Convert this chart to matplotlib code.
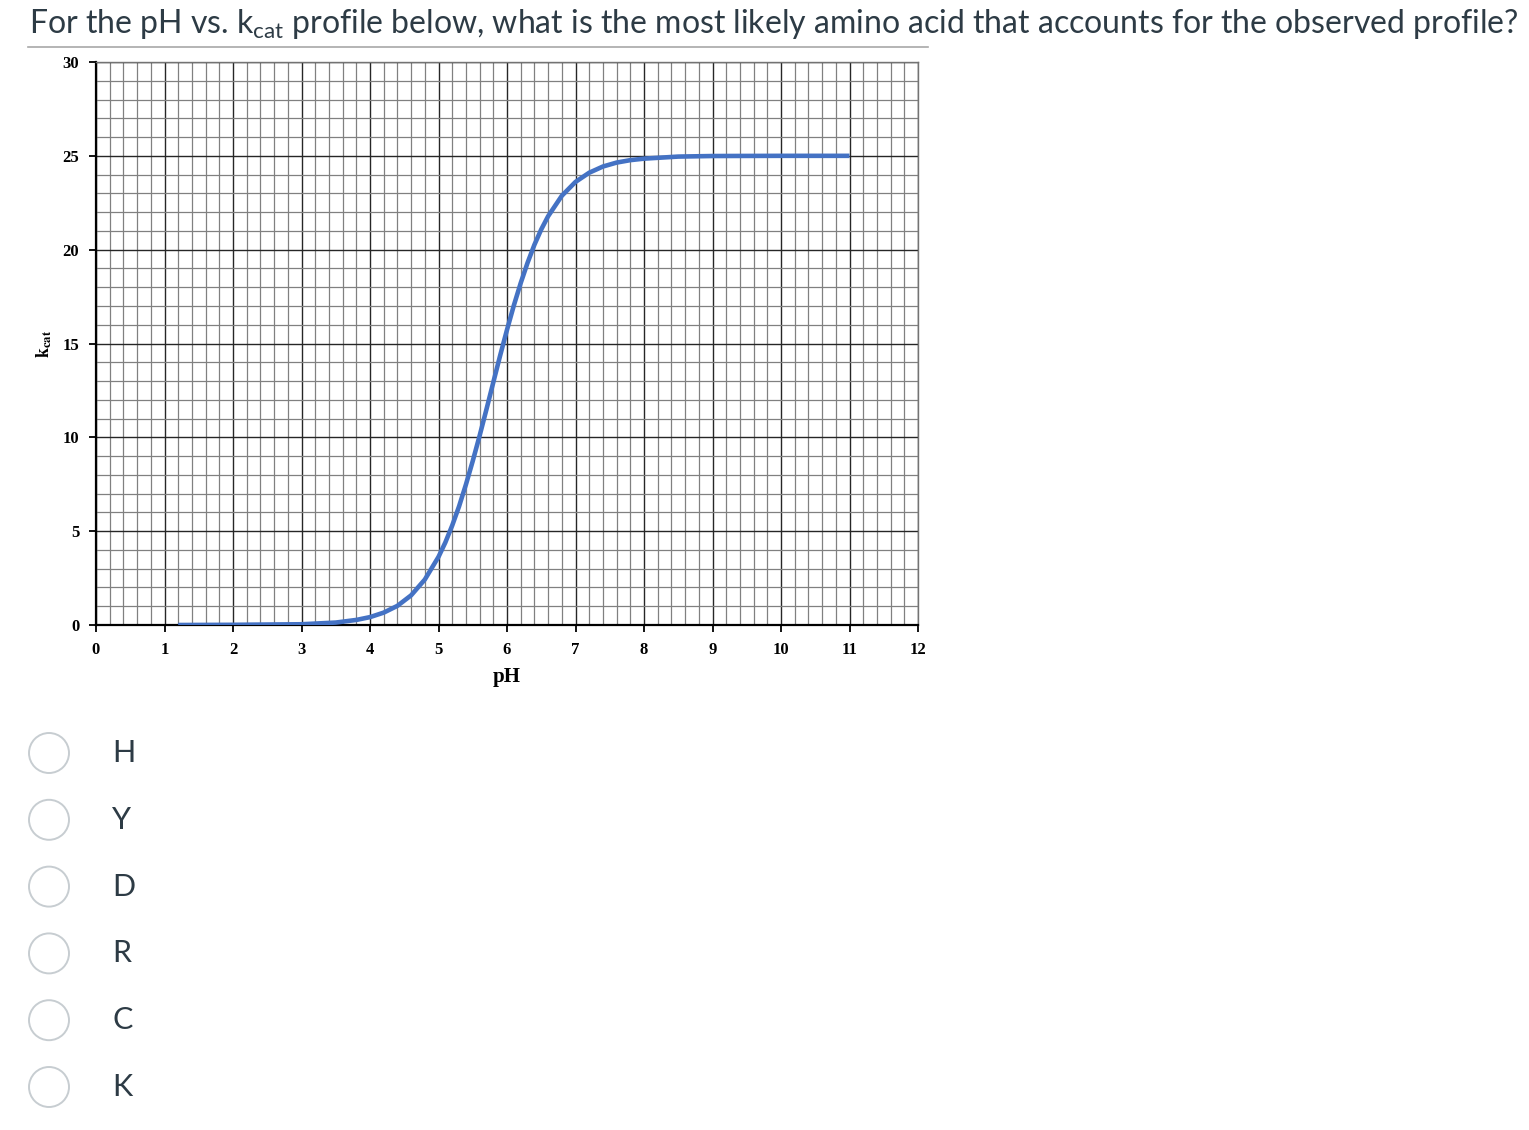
import numpy as np
import matplotlib.pyplot as plt
from matplotlib.patches import Circle
from matplotlib.lines import Line2D

# data
ph = [1.2, 2.0, 3.0, 3.5, 3.8, 4.0, 4.2, 4.4, 4.6, 4.8, 5.0, 5.1, 5.2, 5.3, 5.4, 5.5, 5.6, 5.7, 5.8,
      5.9, 6.0, 6.1, 6.2, 6.3, 6.4, 6.5, 6.6, 6.8, 7.0, 7.2, 7.4, 7.6, 7.8, 8.0, 8.5, 9.0, 10.0, 11.0]
kcat = [0.0, 0.01, 0.04, 0.13, 0.27, 0.42, 0.66, 1.02, 1.58, 2.42, 3.63, 4.40, 5.30, 6.32, 7.48, 8.74, 10.08, 11.49, 12.93,
        14.36, 15.73, 17.03, 18.22, 19.30, 20.26, 21.08, 21.78, 22.87, 23.61, 24.10, 24.43, 24.64, 24.77, 24.85, 24.96, 24.99, 25.0, 25.0]
x_ticks = list(range(0, 13))
y_ticks = [0, 5, 10, 15, 20, 25, 30]
options = ['H', 'Y', 'D', 'R', 'C', 'K']
question = r'For the pH vs. k$_{\mathrm{cat}}$ profile below, what is the most likely amino acid that accounts for the observed profile?'

plt.rcParams['mathtext.fontset'] = 'custom'
plt.rcParams['mathtext.rm'] = 'Lato'
plt.rcParams['mathtext.it'] = 'Lato:italic'
plt.rcParams['mathtext.bf'] = 'Lato:bold'

W, H = 1529, 1130
fig = plt.figure(figsize=(W / 100, H / 100), dpi=100)
text_col = '#2d3b45'

# question text + rule under it
fig.text(29 / W, 1 - 33 / H, question, fontsize=23, family='Lato', color=text_col,
         va='baseline', ha='left')
fig.add_artist(Line2D([28 / W, 928 / W], [1 - 47 / H, 1 - 47 / H], color='#a8a8a8', lw=1.2,
                      transform=fig.transFigure))

# chart
ax = fig.add_axes([96 / W, 1 - 625 / H, (918 - 96) / W, (625 - 62) / H])
ax.set_xlim(0, 12)
ax.set_ylim(0, 30)
ax.set_xticks(np.arange(0, 12.01, 0.2), minor=True)
ax.set_yticks(np.arange(0, 30.01, 1), minor=True)
ax.grid(which='major', color='0.15', lw=1.0)
ax.grid(which='minor', color='0.5', lw=0.9)
ax.set_axisbelow(True)
ax.tick_params(which='minor', length=0)
ax.tick_params(which='major', length=5, width=1.3, color='black', pad=7)

ax.plot(ph, kcat, color='#4472c4', lw=3.3, solid_capstyle='butt', zorder=3)

ax.set_xticks(x_ticks)
ax.set_yticks(y_ticks)
ax.set_xticklabels([str(t) for t in x_ticks], family='Liberation Serif', fontweight='bold', fontsize=12)
ax.set_yticklabels([str(t) for t in y_ticks], family='Liberation Serif', fontweight='bold', fontsize=12)
ax.set_xlabel('pH', family='Liberation Serif', fontweight='bold', fontsize=15, labelpad=7)
ax.set_ylabel(r'$\mathbf{k_{cat}}$', fontsize=13, labelpad=6, math_fontfamily='stix')

for side in ['left', 'bottom']:
    ax.spines[side].set_color('black')
    ax.spines[side].set_linewidth(1.6)
for side in ['top', 'right']:
    ax.spines[side].set_color('0.45')
    ax.spines[side].set_linewidth(1.0)

# answer choices
for i, opt in enumerate(options):
    yc = 753 + i * 66.8
    fig.add_artist(Circle((49 / 100, (H - yc) / 100), 0.20, transform=fig.dpi_scale_trans,
                          facecolor='white', edgecolor='#c7cdd1', lw=1.4))
    fig.text(112 / W, 1 - yc / H, opt, fontsize=22, family='Lato', color=text_col,
             va='center', ha='left')

fig.savefig('out.png', dpi=100)
